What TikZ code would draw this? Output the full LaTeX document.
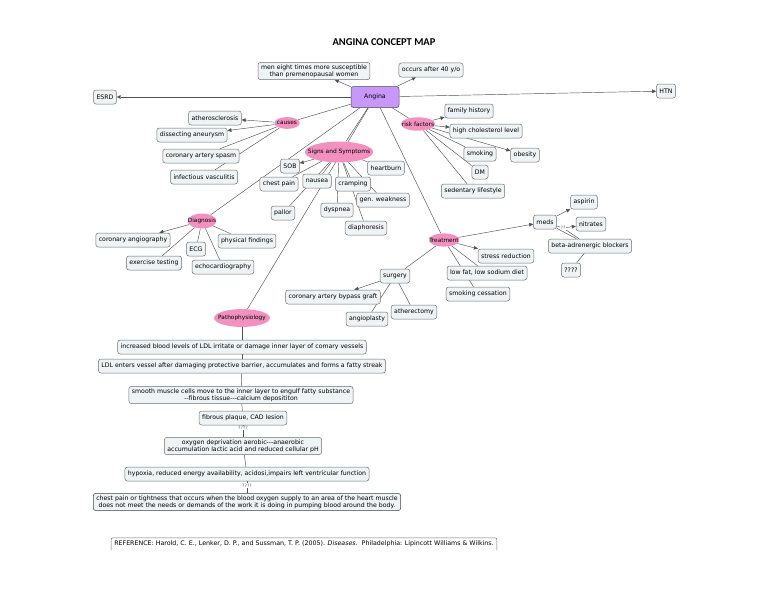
\documentclass[tikz,border=0pt]{standalone}
\usepackage{fontspec}
\setmainfont{DejaVu Sans}
\newfontfamily\titlefont{Carlito}
\usetikzlibrary{arrows.meta,shapes.geometric,positioning,backgrounds}
\definecolor{boxfill}{HTML}{EEF3F6}
\definecolor{boxline}{HTML}{707070}
\definecolor{pinkfill}{HTML}{F290C0}
\definecolor{anginafill}{HTML}{C897FA}
\definecolor{linkgray}{HTML}{505050}
\newcommand{\hy}{\mbox{-}}

\begin{document}
\begin{tikzpicture}[x=1pt, y=-1pt,
    concept/.style={draw=boxline, fill=boxfill, rounded corners=2.5pt,
      line width=0.5pt, font=\fontsize{6.2}{7.2}\selectfont,
      align=center, inner xsep=3pt, inner ysep=2pt, minimum height=14pt},
    topic/.style={ellipse, fill=pinkfill, font=\fontsize{5.8}{7}\selectfont,
      inner xsep=-4pt, inner ysep=2.5pt},
    lnk/.style={draw=linkgray, line width=0.45pt},
    arr/.style={lnk, -{Triangle[length=4pt, width=3.6pt]}},
    qlab/.style={font=\fontsize{4.5}{5}\selectfont, text=black!65, inner sep=0.5pt}
]
\useasboundingbox (0,0) rectangle (768,594);

% --- Titel en hoofdbegrip ---
\node[font=\titlefont\bfseries\fontsize{10.5}{12}\selectfont] (title) at (384,42)
      {ANGINA CONCEPT MAP};
\node[concept, fill=anginafill, draw=black!70, minimum width=48pt,
      minimum height=21pt] (angina) at (375,97) {Angina};

\node[concept] (men) at (314,71)
      {men eight times more susceptible\\than premenopausal women};
\node[concept] (occurs) at (431,70) {occurs after 40 y/o};
\node[concept] (esrd) at (105,97) {ESRD};
\node[concept] (htn) at (666,91) {HTN};

% --- Oorzaken ---
\node[topic, inner xsep=-1pt] (causes) at (287,123) {causes};
\node[concept] (ather) at (215,118) {atherosclerosis};
\node[concept] (dissect) at (192,135) {dissecting aneurysm};
\node[concept] (spasm) at (201,156) {coronary artery spasm};
\node[concept] (vasc) at (204,177) {infectious vasculitis};

% --- Risicofactoren ---
\node[topic] (risk) at (418,124) {risk factors};
\node[concept] (family) at (469,111) {family history};
\node[concept] (chol) at (486,131) {high cholesterol level};
\node[concept] (smoke) at (480,154) {smoking};
\node[concept] (obes) at (525,155) {obesity};
\node[concept] (dm) at (480,172) {DM};
\node[concept] (sedent) at (473,191) {sedentary lifestyle};

% --- Symptomen ---
\node[topic, font=\fontsize{5.9}{7}\selectfont, inner xsep=-7pt, inner ysep=4.5pt]
      (signs) at (339,152) {Signs and Symptoms};
\node[concept] (sob) at (290,166) {SOB};
\node[concept] (chest) at (279,184) {chest pain};
\node[concept] (nausea) at (317,181) {nausea};
\node[concept] (pallor) at (283,213) {pallor};
\node[concept] (cramp) at (353,184) {cramping};
\node[concept] (heart) at (386,168) {heartburn};
\node[concept] (dysp) at (337,210) {dyspnea};
\node[concept] (weak) at (383,200) {gen. weakness};
\node[concept] (diaph) at (366,228) {diaphoresis};

% --- Diagnose ---
\node[topic] (diag) at (202,221) {Diagnosis};
\node[concept] (angio) at (133,240) {coronary angiography};
\node[concept] (ecg) at (196,249) {ECG};
\node[concept] (phys) at (247,241) {physical findings};
\node[concept] (exer) at (154,263) {exercise testing};
\node[concept] (echo) at (223,267) {echocardiography};

% --- Behandeling ---
\node[topic] (treat) at (444,240) {Treatment};
\node[concept] (meds) at (545,222) {meds};
\node[concept] (aspirin) at (584,202) {aspirin};
\node[concept] (nitr) at (591,224) {nitrates};
\node[qlab] (qq) at (563,228) {??};
\node[concept] (beta) at (590,246) {beta-adrenergic blockers};
\node[concept] (unk) at (571,270) {????};
\node[concept] (stress) at (506,256) {stress reduction};
\node[concept] (diet) at (487,273) {low fat, low sodium diet};
\node[concept] (cess) at (478,294) {smoking cessation};
\node[concept] (surg) at (395,276) {surgery};
\node[concept] (cabg) at (333,297) {coronary artery bypass graft};
\node[concept] (plasty) at (367,319) {angioplasty};
\node[concept] (ectomy) at (414,312) {atherectomy};

% --- Pathofysiologie (keten) ---
\node[topic, inner ysep=3.5pt] (patho) at (242,318) {Pathophysiology};
\node[concept] (p1) at (242,347)
      {increased blood levels of LDL irritate or damage inner layer of comary vessels};
\node[concept] (p2) at (242,366)
      {LDL enters vessel after damaging protective barrier, accumulates and forms a fatty streak};
\node[concept] (p3) at (241,395)
      {smooth muscle cells move to the inner layer to engulf fatty substance\\\hy\hy fibrous tissue\hy\hy\hy calcium deposititon};
\node[concept] (p4) at (243,418) {fibrous plaque, CAD lesion};
\node[concept] (p5) at (243,446)
      {oxygen deprivation aerobic\hy\hy\hy anaerobic\\accumulation lactic acid and reduced cellular pH};
\node[concept] (p6) at (247,474)
      {hypoxia, reduced energy availability, acidosi,impairs left ventricular function};
\node[concept, draw=black!75] (p7) at (247,502)
      {chest pain or tightness that occurs when the blood oxygen supply to an area of the heart muscle\\does not meet the needs or demands of the work it is doing in pumping blood around the body.};

% --- Bron ---
\node[font=\fontsize{6.3}{7}\selectfont, inner xsep=3pt, inner ysep=3pt] (refn) at (304,544)
      {REFERENCE: Harold, C. E., Lenker, D. P., and Sussman, T. P. (2005). \textit{Diseases.}\ \ Philadelphia: Lipincott Williams \& Wilkins.};
\draw[boxline, line width=0.5pt, rounded corners=2pt]
      (refn.south west) |- (refn.north east) -- (refn.south east);

\begin{scope}[on background layer]
% --- Verbindingen vanuit Angina ---
\draw[arr] (angina) -- (men);
\draw[arr] (angina) -- (occurs);
\draw[arr] (angina) -- (esrd);
\draw[arr] (angina) -- (htn);
\draw[lnk] (angina) -- (causes);
\draw[lnk] (angina) -- (risk);
\draw[lnk] (angina) -- (signs);
\draw[lnk] (angina) -- (diag);
\draw[lnk] (angina) -- (patho);
\draw[lnk] (angina) -- (treat);

% --- causes ---
\draw[arr] (causes) -- (ather);
\draw[arr] (causes) -- (dissect);
\draw[lnk] (causes) -- (spasm);
\draw[lnk] (causes) -- (vasc);

% --- risk factors ---
\draw[arr] (risk) -- (family);
\draw[arr] (risk) -- (chol);
\draw[lnk] (risk) -- (smoke);
\draw[arr] (risk) -- (obes);
\draw[lnk] (risk) -- (dm);
\draw[lnk] (risk) -- (sedent);

% --- signs and symptoms ---
\draw[arr] (signs) -- (sob);
\draw[lnk] (signs) -- (chest);
\draw[lnk] (signs) -- (nausea);
\draw[lnk] (signs) -- (pallor);
\draw[lnk] (signs) -- (dysp);
\draw[lnk] (signs) -- (cramp);
\draw[lnk] (signs) -- (weak);
\draw[lnk] (signs) -- (diaph);
\draw[lnk] (signs) -- (heart);

% --- diagnosis ---
\draw[arr] (diag) -- (angio);
\draw[lnk] (diag) -- (ecg);
\draw[lnk] (diag) -- (phys);
\draw[lnk] (diag) -- (exer);
\draw[lnk] (diag) -- (echo);

% --- treatment ---
\draw[arr] (treat) -- (meds);
\draw[arr] (meds) -- (aspirin);
\draw[lnk] (meds) -- (qq);
\draw[arr] (qq) -- (nitr);
\draw[lnk] (qq) -- (beta);
\draw[lnk] (meds) -- (beta);
\draw[lnk] (beta) -- (unk);
\draw[arr] (treat) -- (stress);
\draw[lnk] (treat) -- (diet);
\draw[lnk] (treat) -- (cess);
\draw[lnk] (treat) -- (surg);
\draw[arr] (surg) -- (cabg);
\draw[lnk] (surg) -- (plasty);
\draw[lnk] (surg) -- (ectomy);

% --- pathophysiology keten ---
\draw[lnk] (patho) -- (p1);
\draw[lnk] (p1) -- (p2);
\draw[lnk] (p2) -- (p3);
\draw[lnk] (p3) -- (p4);
\draw[lnk] (p4) -- node[qlab, fill=white, pos=0.25] {????} (p5);
\draw[lnk] (p5) -- (p6);
\draw[lnk] (p6) -- node[qlab, fill=white, pos=0.35] {????} (p7);
\end{scope}
\end{tikzpicture}
\end{document}
